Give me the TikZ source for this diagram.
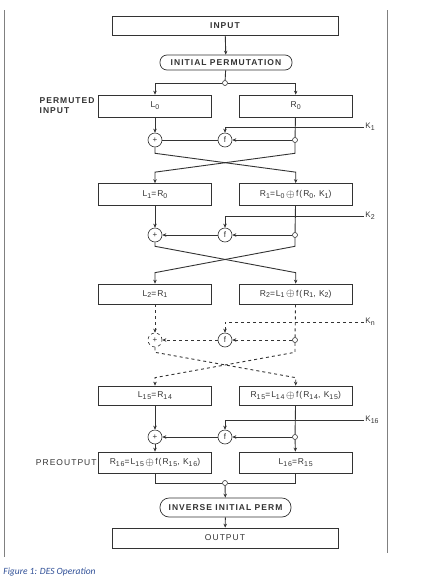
\documentclass[tikz,border=0pt]{standalone}
\usepackage{fontspec}
\setmainfont{Liberation Sans}
\newfontfamily\capfont{Carlito}
\usepackage{xcolor}
\usepackage{graphicx}
\usetikzlibrary{arrows.meta,positioning,calc}

\definecolor{ink}{HTML}{333333}
\definecolor{capblue}{HTML}{2E4E96}
\newcommand{\ix}[1]{\raisebox{-0.4ex}{\fontsize{7}{7}\selectfont #1}}
\newcommand{\xo}{\,\raisebox{-0.15ex}{\scalebox{1.3}{$\oplus$}}\,}

\begin{document}
\begin{tikzpicture}[x=1pt, y=-1pt, color=ink, line width=0.9pt,
    font=\fontsize{8.5}{10}\selectfont\addfontfeature{LetterSpace=12},
    box/.style={rectangle, draw, line width=0.7pt, minimum width=113pt, minimum height=22pt, inner sep=1pt},
    widebox/.style={rectangle, draw, line width=0.7pt, minimum width=226pt, minimum height=19pt},
    permbox/.style={rectangle, draw, line width=0.7pt, rounded corners=7pt, minimum width=132pt, minimum height=15pt},
    op/.style={circle, draw, line width=0.6pt, fill=white, minimum size=14pt, inner sep=0pt, font=\fontsize{8}{8}\selectfont},
    joint/.style={circle, draw, line width=0.6pt, fill=white, minimum size=5pt, inner sep=0pt},
    keylab/.style={anchor=west, inner sep=1pt, font=\fontsize{8}{9}\selectfont},
    sidelab/.style={anchor=east, align=left, inner sep=1pt},
    arrow/.style={-{Stealth[length=4pt,width=3.5pt]}}
]
    \useasboundingbox (0,0) rectangle (431,587);

    % page frame
    \draw[line width=0.8pt, gray] (4.5,10) -- (4.5,557);
    \draw[line width=0.8pt, gray] (387,10) -- (387,553);

    % input side
    \node [widebox] (in) at (225,26) {\bfseries INPUT};
    \node [permbox] (ip) at (226,62.5) {\bfseries INITIAL PERMUTATION};
    \node [joint] (s0) at (225,83) {};
    \node [box] (L0) at (155,106) {L\ix{0}};
    \node [box, right=27pt of L0] (R0) {R\ix{0}};
    \node [sidelab] (pin) at (96,106) {\bfseries PERMUTED\\\bfseries INPUT};

    \draw [arrow] (in) -- (ip);
    \draw (ip) -- (s0);
    \draw [arrow] (s0) -| (L0);
    \draw [arrow] (s0) -| (R0);

    % round 1
    \node [op] (p1) at (155,140) {+};
    \node [op] (f1) at (225,140) {f};
    \node [joint] (d1) at (295,140) {};
    \node [keylab] (k1) at (364,127) {K\ix{1}};
    \node [box] (L1) at (155,194.5) {L\ix{1}=R\ix{0}};
    \node [box, right=27pt of L1] (R1) {R\ix{1}=L\ix{0}\xo f(R\ix{0}, K\ix{1})};

    \draw [arrow] (L0) -- (p1);
    \draw (R0) -- (d1);
    \draw [arrow] (d1) -- (f1);
    \draw (f1) -- (p1);
    \draw [arrow] (k1.west) -| (f1);
    \draw [arrow] (p1.south) -- ++(0,6) -- ($(R1.north)+(0,-11)$) -- (R1.north);
    \draw [arrow] (d1.south) -- ++(0,10.5) -- ($(L1.north)+(0,-11)$) -- (L1.north);

    % round 2
    \node [op] (p2) at (155,235) {+};
    \node [op] (f2) at (225,235) {f};
    \node [joint] (d2) at (295,235) {};
    \node [keylab] (k2) at (364,216) {K\ix{2}};
    \node [box, minimum height=20pt] (L2) at (155,294) {L\ix{2}=R\ix{1}};
    \node [box, minimum height=20pt, right=27pt of L2] (R2) {R\ix{2}=L\ix{1}\xo f(R\ix{1}, K\ix{2})};

    \draw [arrow] (L1) -- (p2);
    \draw (R1) -- (d2);
    \draw [arrow] (d2) -- (f2);
    \draw [arrow] (f2) -- (p2);
    \draw [arrow] (k2.west) -| (f2);
    \draw [arrow] (p2.south) -- ++(0,4) -- ($(R2.north)+(0,-11)$) -- (R2.north);
    \draw [arrow] (d2.south) -- ++(0,8.5) -- ($(L2.north)+(0,-11)$) -- (L2.north);

    % round n (dashed)
    \node [op, dashed] (pn) at (155,340) {+};
    \node [op] (fn) at (225,340) {f};
    \node [joint] (dn) at (295,340) {};
    \node [keylab] (kn) at (364,322) {K\ix{n}};
    \node [box, minimum height=19pt] (L15) at (155,395.5) {L\ix{15}=R\ix{14}};
    \node [box, minimum height=19pt, right=27pt of L15] (R15) {R\ix{15}=L\ix{14}\xo f(R\ix{14}, K\ix{15})};

    \draw [arrow, dashed] (L2) -- (pn);
    \draw [dashed] (R2) -- (dn);
    \draw [arrow, dashed] (dn) -- (fn);
    \draw [arrow, dashed] (fn) -- (pn);
    \draw [arrow, dashed] (kn.west) -| (fn);
    \draw [arrow, dashed] (pn.south) -- ++(0,5) -- ($(R15.north)+(0,-8)$) -- (R15.north);
    \draw [arrow, dashed] (dn.south) -- ++(0,9.5) -- ($(L15.north)+(0,-8)$) -- (L15.north);

    % round 16
    \node [op] (p16) at (155,437) {+};
    \node [op] (f16) at (225,437) {f};
    \node [joint] (d16) at (295,437) {};
    \node [keylab] (k16) at (364,420) {K\ix{16}};
    \node [box, minimum height=21pt] (R16) at (155,462.5) {R\ix{16}=L\ix{15}\xo f(R\ix{15}, K\ix{16})};
    \node [box, minimum height=21pt, right=27pt of R16] (L16) {L\ix{16}=R\ix{15}};
    \node [sidelab] (pout) at (98,463) {PREOUTPUT};

    \draw [arrow] (L15) -- (p16);
    \draw (R15) -- (d16);
    \draw [arrow] (d16) -- (f16);
    \draw [arrow] (f16) -- (p16);
    \draw [arrow] (k16.west) -| (f16);
    \draw [arrow] (p16) -- (R16);
    \draw [arrow] (d16) -- (L16);

    % output side
    \node [joint] (s1) at (225,483) {};
    \node [permbox, minimum width=131pt, minimum height=19pt, rounded corners=9pt] (iip) at (225.5,507.5) {\bfseries INVERSE INITIAL PERM};
    \node [widebox, minimum height=20pt] (out) at (225,538) {OUTPUT};

    \draw (R16) |- (s1);
    \draw (L16) |- (s1);
    \draw [arrow] (s1) -- (iip);
    \draw [arrow] (iip) -- (out);

    \node [anchor=west, inner sep=0pt, text=capblue, font=\capfont\itshape\fontsize{9.5}{11}\selectfont] (cap) at (3,572) {Figure 1: DES Operation};
\end{tikzpicture}
\end{document}
